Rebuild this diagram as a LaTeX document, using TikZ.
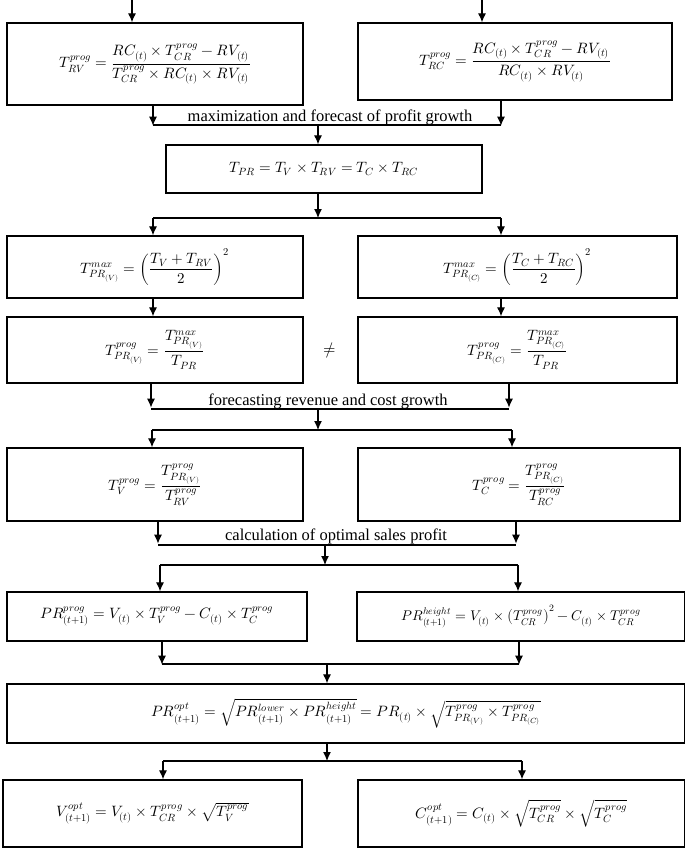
\documentclass[tikz,border=0pt]{standalone}
\usepackage{amsmath}
\usepackage{fontspec}
\usepackage{unicode-math}
\setmainfont{Liberation Serif}
\setmathfont{Latin Modern Math}
\usetikzlibrary{arrows.meta}
\begin{document}
\begin{tikzpicture}[x=1pt,y=-1pt,
  box/.style={draw,line width=1.3pt,inner sep=0pt,font=\fontsize{15}{18}\selectfont},
  arr/.style={line width=1.1pt,-{Latex[length=9pt,width=8pt]}},
  ln/.style={line width=1.1pt},
  lab/.style={font=\fontsize{16.5}{18}\selectfont,anchor=base}]
\useasboundingbox (0,0) rectangle (685,849);
\newcommand\bx[6]{\node[box,minimum width={#3-#2},minimum height={#5-#4}] (#1) at ({(#2+#3)/2},{(#4+#5)/2}) {#6};}
\bx{b1}{7}{303}{23}{105}{$T_{RV}^{prog}=\dfrac{RC_{(t)}\times T_{CR}^{prog}-RV_{(t)}}{T_{CR}^{prog}\times RC_{(t)}\times RV_{(t)}}$}
\bx{b2}{358}{672}{23}{100}{$T_{RC}^{prog}=\dfrac{RC_{(t)}\times T_{CR}^{prog}-RV_{(t)}}{RC_{(t)}\times RV_{(t)}}$}
\bx{b3}{166}{482}{145}{193}{$T_{PR}=T_V\times T_{RV}=T_C\times T_{RC}$}
\bx{b4l}{7}{303}{236}{298}{$T_{PR_{(V)}}^{max}=\left(\dfrac{T_V+T_{RV}}{2}\right)^2$}
\bx{b4r}{358}{677}{236}{298}{$T_{PR_{(C)}}^{max}=\left(\dfrac{T_C+T_{RC}}{2}\right)^2$}
\bx{b5l}{7}{303}{317}{383}{$T_{PR_{(V)}}^{prog}=\dfrac{T_{PR_{(V)}}^{max}}{T_{PR}}$}
\bx{b5r}{358}{677}{317}{383}{$T_{PR_{(C)}}^{prog}=\dfrac{T_{PR_{(C)}}^{max}}{T_{PR}}$}
\bx{b6l}{7}{303}{448}{521}{$T_{V}^{prog}=\dfrac{T_{PR_{(V)}}^{prog}}{T_{RV}^{prog}}$}
\bx{b6r}{358}{680}{448}{521}{$T_{C}^{prog}=\dfrac{T_{PR_{(C)}}^{prog}}{T_{RC}^{prog}}$}
\bx{b7l}{7}{307}{592}{641}{$PR_{(t+1)}^{prog}=V_{(t)}\times T_V^{prog}-C_{(t)}\times T_C^{prog}$}
\bx{b7r}{357}{685}{592}{641}{\fontsize{14}{16}\selectfont$PR_{(t+1)}^{height}=V_{(t)}\times\bigl(T_{CR}^{prog}\bigr)^2-C_{(t)}\times T_{CR}^{prog}$}
\bx{b8}{7}{685}{684}{743}{$PR_{(t+1)}^{opt}=\sqrt{PR_{(t+1)}^{lower}\times PR_{(t+1)}^{height}}=PR_{(t)}\times\sqrt{T_{PR_{(V)}}^{prog}\times T_{PR_{(C)}}^{prog}}$}
\bx{b9l}{3}{302}{780}{847}{$V_{(t+1)}^{opt}=V_{(t)}\times T_{CR}^{prog}\times\sqrt{T_V^{prog}}$}
\bx{b9r}{358}{685}{780}{847}{$C_{(t+1)}^{opt}=C_{(t)}\times\sqrt{T_{CR}^{prog}}\times\sqrt{T_C^{prog}}$}
\node[font=\fontsize{16}{18}\selectfont] (ne) at (330,350) {$\neq$};
% top
\coordinate (t1) at (132,0); \coordinate (t2) at (482,0);
\draw[arr] (t1) -- (t1|-b1.north);
\draw[arr] (t2) -- (t2|-b2.north);
% level 1 merge
\coordinate (m1l) at (153,125); \coordinate (m1r) at (501,125); \coordinate (m1c) at (318,125);
\draw[arr] (b1.south-|m1l) -- ++(0,20);
\draw[arr] (b2.south-|m1r) -- ++(0,25);
\draw[ln] (m1l) -- (m1r);
\node[lab] (l1) at (330,121) {maximization and forecast of profit growth};
\draw[arr] (m1c) -- (m1c|-b3.north);
% split 2
\coordinate (s2c) at (318,218); \coordinate (s2l) at (153,218); \coordinate (s2r) at (501,218);
\draw[arr] (b3.south-|s2c) -- (s2c);
\draw[ln] (s2l) -- (s2r);
\draw[arr] (s2l) -- (s2l|-b4l.north);
\draw[arr] (s2r) -- (s2r|-b4r.north);
\draw[arr] (b4l.south-|s2l) -- (s2l|-b5l.north);
\draw[arr] (b4r.south-|s2r) -- (s2r|-b5r.north);
% merge 3
\coordinate (m3l) at (151,409); \coordinate (m3r) at (509,409); \coordinate (m3c) at (318,409);
\draw[arr] (b5l.south-|m3l) -- ++(0,24);
\draw[arr] (b5r.south-|m3r) -- ++(0,24);
\draw[ln] (m3l) -- (m3r);
\node[lab] (l2) at (328,405) {forecasting revenue and cost growth};
\coordinate (s3c) at (318,430); \coordinate (s3l) at (152,430); \coordinate (s3r) at (512,430);
\draw[arr] (m3c) -- (s3c);
\draw[ln] (s3l) -- (s3r);
\draw[arr] (s3l) -- (s3l|-b6l.north);
\draw[arr] (s3r) -- (s3r|-b6r.north);
% merge 4
\coordinate (m4l) at (158,545); \coordinate (m4r) at (516,545); \coordinate (m4c) at (325,545);
\draw[arr] (b6l.south-|m4l) -- ++(0,22);
\draw[arr] (b6r.south-|m4r) -- ++(0,22);
\draw[ln] (m4l) -- (m4r);
\node[lab] (l3) at (336,540) {calculation of optimal sales profit};
\coordinate (s4c) at (325,565); \coordinate (s4l) at (160,565); \coordinate (s4r) at (518,565);
\draw[arr] (m4c) -- (s4c);
\draw[ln] (s4l) -- (s4r);
\draw[arr] (s4l) -- (s4l|-b7l.north);
\draw[arr] (s4r) -- (s4r|-b7r.north);
% merge 5
\coordinate (m5l) at (162,664); \coordinate (m5r) at (519,664); \coordinate (m5c) at (327,664);
\draw[arr] (b7l.south-|m5l) -- ++(0,23);
\draw[arr] (b7r.south-|m5r) -- ++(0,23);
\draw[ln] (m5l) -- (m5r);
\draw[arr] (m5c) -- (m5c|-b8.north);
\coordinate (s6c) at (327,761); \coordinate (s6l) at (163,761); \coordinate (s6r) at (522,761);
\draw[arr] (b8.south-|s6c) -- (s6c);
\draw[ln] (s6l) -- (s6r);
\draw[arr] (s6l) -- (s6l|-b9l.north);
\draw[arr] (s6r) -- (s6r|-b9r.north);
\end{tikzpicture}
\end{document}
